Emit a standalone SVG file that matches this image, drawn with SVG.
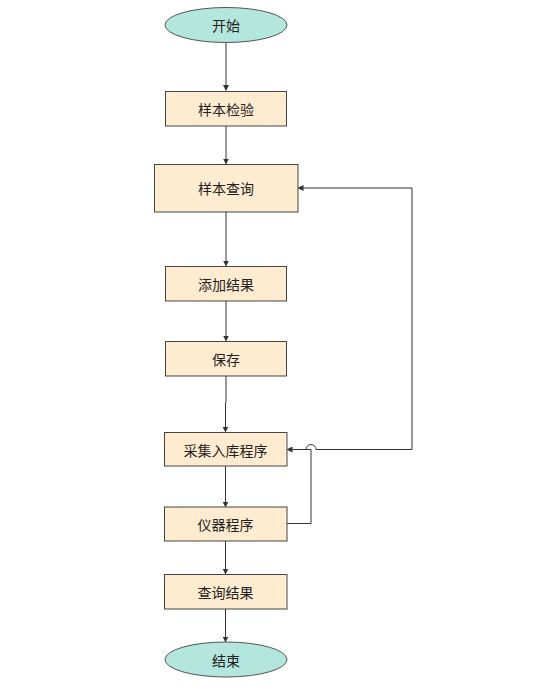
<svg xmlns="http://www.w3.org/2000/svg" width="547" height="692" viewBox="0 0 547 692">
<defs>
<marker id="arr" markerWidth="6" markerHeight="6" refX="5" refY="3" orient="auto" markerUnits="userSpaceOnUse">
<path d="M0,0 L6,3 L0,6 Z" fill="#333"/>
</marker>
<style>
.box{fill:#ffebd0;stroke:#444;stroke-width:1}
.term{fill:#b3e6dc;stroke:#555;stroke-width:1}
.t{font-family:"Noto Sans CJK SC","Noto Sans",sans-serif;font-size:14px;fill:#222;text-anchor:middle;dominant-baseline:central}
.c{fill:none;stroke:#333;stroke-width:1}
</style>
</defs>
<rect width="547" height="692" fill="#fff"/>
<g id="connectors">
<path class="c" d="M226,42.5 V90" marker-end="url(#arr)"/>
<path class="c" d="M226,126 V163.5" marker-end="url(#arr)"/>
<path class="c" d="M226,212 V265.5" marker-end="url(#arr)"/>
<path class="c" d="M226,301 V340.5" marker-end="url(#arr)"/>
<path class="c" d="M226,376 V403 H225.5 V431.5" marker-end="url(#arr)"/>
<path class="c" d="M225.5,466 V506.5" marker-end="url(#arr)"/>
<path class="c" d="M225.5,541 V573.5" marker-end="url(#arr)"/>
<path class="c" d="M225.5,609 V641.5" marker-end="url(#arr)"/>
<path class="c" d="M287,523.5 H311 V449.5 H287.5" marker-end="url(#arr)"/>
<path class="c" d="M287,449.5 H306 A5,5 0 0 1 316,449.5 H412 V188 H298.5" marker-end="url(#arr)"/>
</g>
<g id="start"><ellipse class="term" cx="226" cy="25" rx="61" ry="17.5"/><text class="t" x="226" y="25">开始</text></g>
<g id="n1"><rect class="box" x="165.5" y="91.5" width="121" height="34.5"/><text class="t" x="226" y="108.5">样本检验</text></g>
<g id="n2"><rect class="box" x="154.5" y="164.5" width="143.5" height="47.5"/><text class="t" x="226" y="188">样本查询</text></g>
<g id="n3"><rect class="box" x="165.5" y="266.5" width="121" height="34.5"/><text class="t" x="226" y="283.5">添加结果</text></g>
<g id="n4"><rect class="box" x="165.5" y="341.5" width="121" height="34.5"/><text class="t" x="226" y="358.5">保存</text></g>
<g id="n5"><rect class="box" x="164.5" y="432.5" width="122.5" height="33.5"/><text class="t" x="225.5" y="449.5">采集入库程序</text></g>
<g id="n6"><rect class="box" x="164.5" y="507" width="122.5" height="34"/><text class="t" x="225.5" y="524">仪器程序</text></g>
<g id="n7"><rect class="box" x="164.5" y="574.5" width="122.5" height="34.5"/><text class="t" x="225.5" y="591.5">查询结果</text></g>
<g id="end"><ellipse class="term" cx="226" cy="659.5" rx="61" ry="17.5"/><text class="t" x="226" y="659.5">结束</text></g>
</svg>
